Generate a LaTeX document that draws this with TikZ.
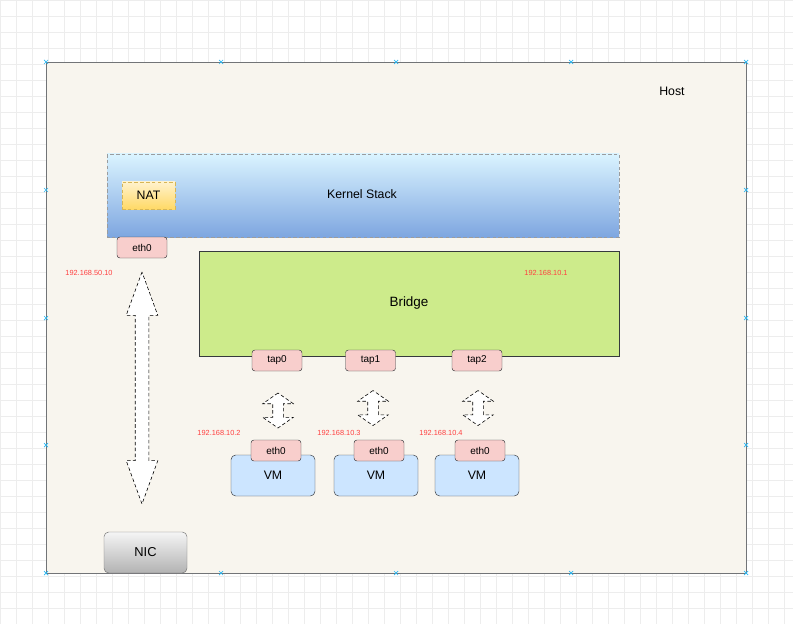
\documentclass[tikz,border=0pt]{standalone}
\usepackage{fontspec}
\setmainfont{Liberation Sans}
\usetikzlibrary{shapes.arrows}
\definecolor{hostbg}{HTML}{F8F5EE}
\definecolor{linec}{HTML}{36393D}
\definecolor{ifc}{HTML}{F8CECC}
\definecolor{brc}{HTML}{CDEB8B}
\definecolor{vmc}{HTML}{CCE5FF}
\definecolor{ipc}{HTML}{FF4040}
\definecolor{handle}{HTML}{29B6F2}
\tikzset{
  box/.style={draw=linec, rounded corners=2.5pt, inner sep=0pt},
  iface/.style={box, fill=ifc, minimum width=50*0.03cm, minimum height=21*0.03cm, font=\fontsize{8.5}{9}\selectfont},
  vm/.style={box, fill=vmc, minimum width=84*0.03cm, minimum height=41*0.03cm, rounded corners=4pt, font=\fontsize{10.5}{12}\selectfont},
  ip/.style={text=ipc, font=\fontsize{6.3}{7}\selectfont},
  dbl/.style={double arrow, draw, densely dashed, fill=white, rotate=90, inner xsep=0pt, inner ysep=6.5*0.03cm, line width=0.5pt},
  handlemark/.style={handle, line width=0.6pt}
}
\begin{document}
\begin{tikzpicture}[x=0.03cm,y=-0.03cm]
  \useasboundingbox (0,0) rectangle (793,624);
  % grid
  \draw[black!7, step=16*0.03cm] (0,0) grid (793,624);
  % host
  \draw[fill=hostbg, draw=linec!70] (46,62) rectangle (746,573);
  \node[font=\fontsize{10.5}{12}\selectfont] (host) at (672,91) {Host};
  % kernel stack
  \draw[top color=blue!5!white!90!cyan, bottom color={rgb,255:red,126;green,166;blue,224}, draw=linec!50, densely dashed, line width=0.4pt] (107,154) rectangle (619,237);
  \node[font=\fontsize{10.5}{12}\selectfont] (kernel) at (362,194) {Kernel Stack};
  \node[top color={rgb,255:red,255;green,242;blue,204}, bottom color={rgb,255:red,255;green,217;blue,102}, draw={rgb,255:red,214;green,182;blue,86}, densely dashed, minimum width=53*0.03cm, minimum height=27*0.03cm, font=\fontsize{10.5}{12}\selectfont] (nat) at (148.5,195.5) {NAT};
  \node[iface] (eth) at (142,247.5) {eth0};
  \node[ip] (ipnat) at (89,273) {192.168.50.10};
  % bridge
  \node[draw=linec, fill=brc, minimum width=420*0.03cm, minimum height=105*0.03cm, font=\fontsize{11.5}{13}\selectfont] (bridge) at (409,303.5) {Bridge};
  \node[ip] (ipbr) at (546,273) {192.168.10.1};
  % taps
  \node[iface] (tap0) at (277,360.5) {tap0};
  \node[iface] (tap1) at (370.5,360.5) {tap1};
  \node[iface] (tap2) at (477,360.5) {tap2};
  % vms
  \node[vm] (vm0) at (273,475.5) {VM};
  \node[vm] (vm1) at (376,475.5) {VM};
  \node[vm] (vm2) at (477,475.5) {VM};
  \node[iface] (veth0) at (276,450.5) {eth0};
  \node[iface] (veth1) at (379,450.5) {eth0};
  \node[iface] (veth2) at (480,450.5) {eth0};
  \node[ip] (ip0) at (219,433) {192.168.10.2};
  \node[ip] (ip1) at (339,433) {192.168.10.3};
  \node[ip] (ip2) at (441,433) {192.168.10.4};
  % links
  \node[dbl, inner ysep=5*0.03cm, minimum height=35*0.03cm, double arrow head extend=10*0.03cm, double arrow tip angle=110] (l0) at (278,410.5) {};
  \node[dbl, inner ysep=5*0.03cm, minimum height=35*0.03cm, double arrow head extend=10*0.03cm, double arrow tip angle=110] (l1) at (373,408) {};
  \node[dbl, inner ysep=5*0.03cm, minimum height=35*0.03cm, double arrow head extend=10*0.03cm, double arrow tip angle=110] (l2) at (478,408) {};
  \node[dbl, minimum height=232*0.03cm, double arrow head extend=9*0.03cm, double arrow tip angle=40] (lnic) at (142,388) {};
  % nic
  \node[box, rounded corners=4pt, top color=black!4, bottom color=black!30, draw=black!55, minimum width=83*0.03cm, minimum height=41*0.03cm, font=\fontsize{11}{12}\selectfont] (nic) at (145.5,552.5) {NIC};
  % handles
  \foreach \p in {(46,62),(221,62),(396,62),(571,62),(746,62),(46,573),(221,573),(396,573),(571,573),(746,573),(46,190),(46,318),(46,445),(746,190),(746,318),(746,445)}
    \draw[handlemark] \p ++(-2,-2) -- ++(4,4) \p ++(-2,2) -- ++(4,-4);
\end{tikzpicture}
\end{document}
